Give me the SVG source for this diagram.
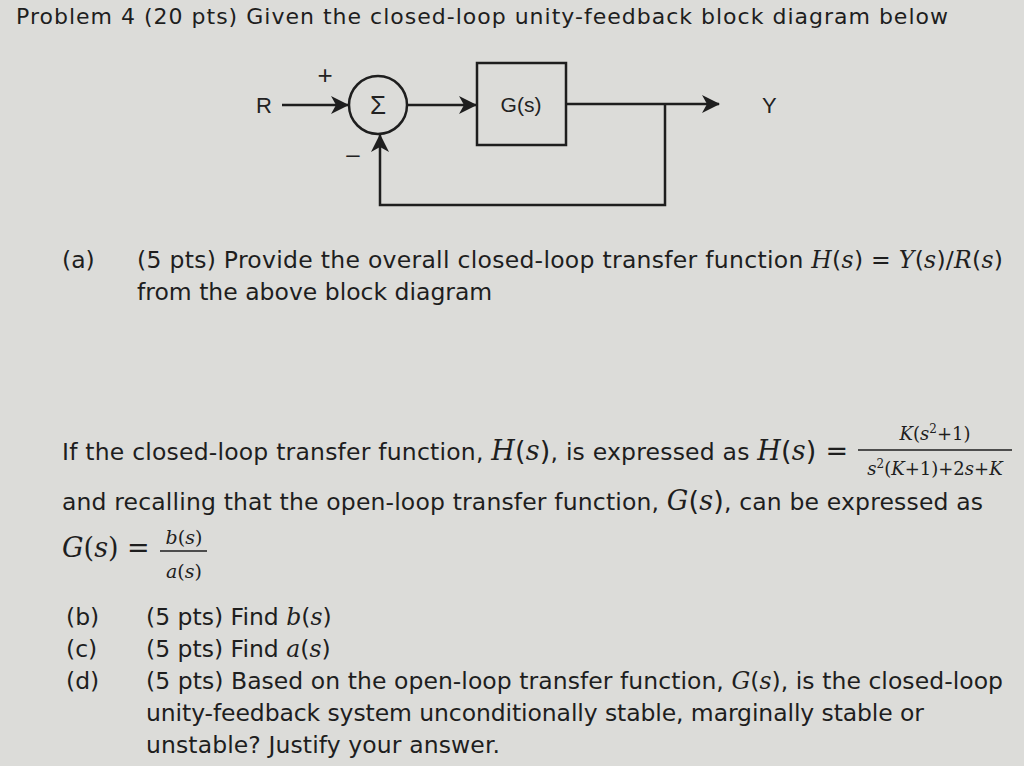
<svg xmlns="http://www.w3.org/2000/svg" width="1024" height="766" viewBox="0 0 1024 766">
<style>
.t{font-family:"DejaVu Sans","Liberation Sans",sans-serif;font-size:23.5px;fill:#1e1e1e}
.m{font-family:"DejaVu Serif","Liberation Serif",serif;font-style:italic;fill:#1e1e1e}
.d{font-family:"Liberation Sans",Arial,sans-serif;fill:#222}
.ln{stroke:#1e1e1e;stroke-width:2.5;fill:none}
</style>
<defs>
<marker id="ah2" markerWidth="18" markerHeight="18" refX="17" refY="9" orient="auto" markerUnits="userSpaceOnUse" viewBox="0 0 18 18"><path d="M0,0 L18,9 L0,18 L5,9 z" fill="#1e1e1e"/></marker>
</defs>
<rect width="1024" height="766" fill="#dcdcd9"/>
<text class="t" x="16" y="24" style="font-size:22px" textLength="932">Problem 4 (20 pts) Given the closed-loop unity-feedback block diagram below</text>
<g id="connectors">
<line class="ln" x1="282" y1="105" x2="348" y2="105" marker-end="url(#ah2)"/>
<line class="ln" x1="408" y1="105" x2="476" y2="105" marker-end="url(#ah2)"/>
<line class="ln" x1="566" y1="104" x2="719" y2="104" marker-end="url(#ah2)"/>
<polyline class="ln" points="665,104 665,205 380,205 380,135" marker-end="url(#ah2)"/>
</g>
<g id="R"><text class="d" x="256" y="113" style="font-size:22px">R</text></g>
<g id="sum">
<circle class="ln" cx="378" cy="105" r="29"/>
<text class="d" x="378" y="114" text-anchor="middle" style="font-size:26px">Σ</text>
<text class="d" x="325" y="84" text-anchor="middle" style="font-size:26px">+</text>
<text class="d" x="353" y="162" text-anchor="middle" style="font-size:24px">–</text>
</g>
<g id="G"><rect class="ln" x="477" y="63" width="89" height="82"/><text class="d" x="521" y="112" text-anchor="middle" style="font-size:21px">G(s)</text></g>
<g id="Y"><text class="d" x="762" y="113" style="font-size:22px">Y</text></g>
<text class="t" x="62" y="268">(a)</text>
<text class="t" x="137" y="268" textLength="866">(5 pts) Provide the overall closed-loop transfer function <tspan class="m">H</tspan>(<tspan class="m">s</tspan>) = <tspan class="m">Y</tspan>(<tspan class="m">s</tspan>)/<tspan class="m">R</tspan>(<tspan class="m">s</tspan>)</text>
<text class="t" x="137" y="300">from the above block diagram</text>
<text class="t" x="62" y="460" textLength="786">If the closed-loop transfer function, <tspan class="m" style="font-size:27px">H</tspan><tspan style="font-size:27px">(</tspan><tspan class="m" style="font-size:27px">s</tspan><tspan style="font-size:27px">)</tspan>, is expressed as <tspan class="m" style="font-size:27px">H</tspan><tspan style="font-size:27px">(</tspan><tspan class="m" style="font-size:27px">s</tspan><tspan style="font-size:27px">) =</tspan></text>
<text class="m" x="935" y="440" text-anchor="middle" style="font-size:18px">K<tspan style="font-style:normal">(</tspan>s<tspan style="font-size:12px;font-style:normal" dy="-7">2</tspan><tspan dy="7" style="font-style:normal">+1)</tspan></text>
<line x1="858" y1="450" x2="1012" y2="450" stroke="#1e1e1e" stroke-width="1.5"/>
<text class="m" x="935" y="475" text-anchor="middle" style="font-size:18px">s<tspan style="font-size:12px;font-style:normal" dy="-7">2</tspan><tspan dy="7" style="font-style:normal">(</tspan>K<tspan style="font-style:normal">+1)+2</tspan>s<tspan style="font-style:normal">+</tspan>K</text>
<text class="t" x="62" y="510" textLength="921">and recalling that the open-loop transfer function, <tspan class="m" style="font-size:27px">G</tspan><tspan style="font-size:27px">(</tspan><tspan class="m" style="font-size:27px">s</tspan><tspan style="font-size:27px">)</tspan>, can be expressed as</text>
<text class="m" x="62" y="557" style="font-size:27px">G<tspan style="font-style:normal">(</tspan>s<tspan style="font-style:normal">) =</tspan></text>
<text class="m" x="184" y="544" text-anchor="middle" style="font-size:19px">b<tspan style="font-style:normal">(</tspan>s<tspan style="font-style:normal">)</tspan></text>
<line x1="160" y1="551" x2="207" y2="551" stroke="#1e1e1e" stroke-width="1.5"/>
<text class="m" x="184" y="578" text-anchor="middle" style="font-size:19px">a<tspan style="font-style:normal">(</tspan>s<tspan style="font-style:normal">)</tspan></text>
<text class="t" x="66" y="625">(b)</text>
<text class="t" x="146" y="625">(5 pts) Find <tspan class="m">b</tspan>(<tspan class="m">s</tspan>)</text>
<text class="t" x="66" y="657">(c)</text>
<text class="t" x="146" y="657">(5 pts) Find <tspan class="m">a</tspan>(<tspan class="m">s</tspan>)</text>
<text class="t" x="66" y="689">(d)</text>
<text class="t" x="146" y="689" textLength="857">(5 pts) Based on the open-loop transfer function, <tspan class="m">G</tspan>(<tspan class="m">s</tspan>), is the closed-loop</text>
<text class="t" x="146" y="721" textLength="778">unity-feedback system unconditionally stable, marginally stable or</text>
<text class="t" x="146" y="753" textLength="354">unstable? Justify your answer.</text>
</svg>
